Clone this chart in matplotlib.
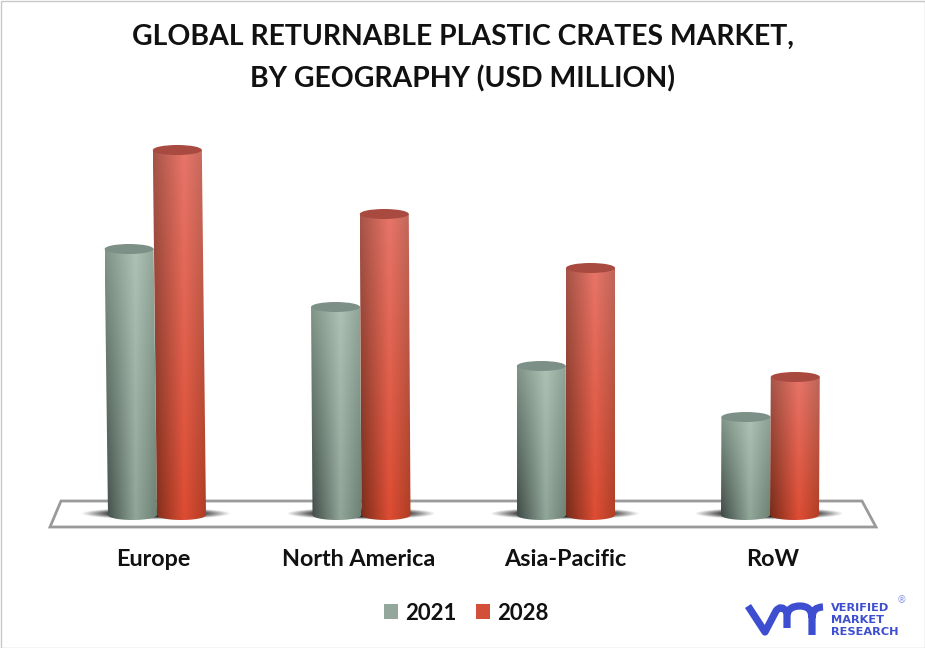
import numpy as np
import matplotlib
matplotlib.use('Agg')
import matplotlib.pyplot as plt
from matplotlib.patches import Polygon, Patch, Ellipse, Rectangle, PathPatch
from matplotlib.path import Path

categories = ['Europe', 'North America', 'Asia-Pacific', 'RoW']
series_names = ['2021', '2028']
values_2021 = [266, 208, 149, 98]
values_2028 = [365, 301, 247, 138]

plt.rcParams['font.family'] = ['Lato', 'DejaVu Sans']
W, H = 925, 648
BASE_PX, AX_BOTTOM_PX = 515, 540
fig = plt.figure(figsize=(W / 100, H / 100), dpi=100)
ax = fig.add_axes([0, 1 - AX_BOTTOM_PX / H, 1, AX_BOTTOM_PX / H])
ax.set_xlim(0, W)
ax.set_ylim(BASE_PX - AX_BOTTOM_PX, BASE_PX)
ax.set_aspect('auto')
for s in ax.spines.values():
    s.set_visible(False)
ax.set_yticks([])
centers = [157, 361.5, 566, 770]
label_pos = [153, 359, 565, 773]
ax.set_xticks(label_pos, categories, fontsize=16.8, fontweight='bold', color='#111111')
ax.tick_params(axis='x', length=0, pad=6.5)

# floor
ax.add_patch(Polygon([(50, -12), (61, 14), (862, 14), (876, -12)], closed=True, fc='white',
                     ec='#9a9a9a', lw=2, zorder=1))

# shadows
def shadow(xc, half):
    xs = np.linspace(-1, 1, 200)
    ys = np.linspace(-1, 1, 40)
    X, Y = np.meshgrid(xs, ys)
    a = np.clip(2.2 - np.sqrt(X ** 2 + (Y * 1.1) ** 2) * 2.2, 0, 1)
    img = np.zeros((40, 200, 4))
    img[..., :3] = 0.10
    img[..., 3] = a
    ax.imshow(img, extent=(xc - half, xc + half, -5, 8), aspect='auto', zorder=2,
              interpolation='bilinear')

for c in centers:
    shadow(c - 1, 75)

GRAY = dict(left=[(0.24, 0.29, 0.27), (0.50, 0.58, 0.53)],
            mid=[(0.57, 0.65, 0.60), (0.68, 0.76, 0.71)],
            right=[(0.42, 0.50, 0.45), (0.55, 0.63, 0.58)],
            top='#7d9087')
RED = dict(left=[(0.47, 0.17, 0.10), (0.65, 0.33, 0.28)],
           mid=[(0.87, 0.30, 0.20), (0.91, 0.46, 0.41)],
           right=[(0.68, 0.24, 0.14), (0.74, 0.40, 0.35)],
           top='#a84a3f')

def cylinder(xc, h, pal):
    w = 49
    lean = 2.8e-5 * (xc - 590) * h
    xb0, xb1 = xc - w / 2, xc + w / 2
    xt0, xt1 = xb0 + lean, xb1 + lean
    ry = 5
    th = np.linspace(np.pi, 2 * np.pi, 40)
    bottom = np.c_[xc + w / 2 * np.cos(th), ry * np.sin(th)]
    verts = np.vstack([bottom, [(xt1, h)], [(xt0, h)], bottom[:1]])
    path = Path(verts, closed=True)
    t = np.linspace(0, 1, 80)
    v = np.linspace(1, 0, 60)
    img = np.zeros((60, 80, 3))
    for k in range(3):
        b = np.interp(t, [0, 0.58, 1], [pal['left'][0][k], pal['mid'][0][k], pal['right'][0][k]])
        tp = np.interp(t, [0, 0.58, 1], [pal['left'][1][k], pal['mid'][1][k], pal['right'][1][k]])
        img[..., k] = np.outer(v, tp) + np.outer(1 - v, b)
    im = ax.imshow(img, extent=(min(xb0, xt0), max(xb1, xt1), -ry, h), aspect='auto', zorder=3,
                   interpolation='bilinear')
    im.set_clip_path(PathPatch(path, transform=ax.transData))
    ax.add_patch(Ellipse((xc + lean, h), w, 2 * ry, fc=pal['top'], ec='none', zorder=3))

for c, a, b in zip(centers, values_2021, values_2028):
    cylinder(c - 24.5, a, GRAY)
    cylinder(c + 24.5, b, RED)

ax.set_xlim(0, W)
ax.set_ylim(BASE_PX - AX_BOTTOM_PX, BASE_PX)

# title
fig.text(462.5 / W, 1 - 37 / H, 'GLOBAL RETURNABLE PLASTIC CRATES MARKET,', ha='center', va='center',
         fontsize=20.4, fontweight='bold', color='#111111')
fig.text(462 / W, 1 - 79 / H, 'BY GEOGRAPHY (USD MILLION)', ha='center', va='center',
         fontsize=20.4, fontweight='bold', color='#111111')

# legend
fig.legend(handles=[Patch(fc='#94a79c', label=series_names[0]), Patch(fc='#d2503a', label=series_names[1])],
           loc='center', bbox_to_anchor=(466.5 / W, 1 - 613 / H), ncols=2, frameon=False,
           prop=dict(size=16, weight='bold'), handlelength=0.63, handleheight=0.63, handletextpad=0.32,
           columnspacing=0.9, labelcolor='#111111')

# logo
blue = '#3d4fd0'
lax = fig.add_axes([0, 0, 1, 1], facecolor='none')
lax.set_xlim(0, W)
lax.set_ylim(H, 0)
lax.axis('off')
M, L, C = Path.MOVETO, Path.LINETO, Path.CURVE3
logo = Path([(748, 606), (765, 632), (776, 611), (781, 604), (787, 612), (787, 628),
             (787, 614), (789, 606), (800, 606), (812, 606), (812, 618), (812, 635),
             (812, 618), (812, 607), (823, 607)],
            [M, L, L, C, C, L, M, C, C, C, C, L, M, C, C])
lax.add_patch(PathPatch(logo, fc='none', ec=blue, lw=5.2, capstyle='butt', joinstyle='round'))
for txt, y in zip(['VERIFIED', 'MARKET', 'RESEARCH'], [608, 620, 632]):
    lax.text(831, y, txt, ha='left', va='center', fontsize=8.2, color=blue, fontweight='bold',
             family='DejaVu Sans')
lax.text(902, 600, '®', ha='center', va='center', fontsize=7, color='#8c96e0', family='DejaVu Sans')
lax.add_patch(Rectangle((0.5, 0.5), W - 1, H - 1, fc='none', ec='#c8c8c8', lw=1))

fig.savefig('out.png', dpi=100)
